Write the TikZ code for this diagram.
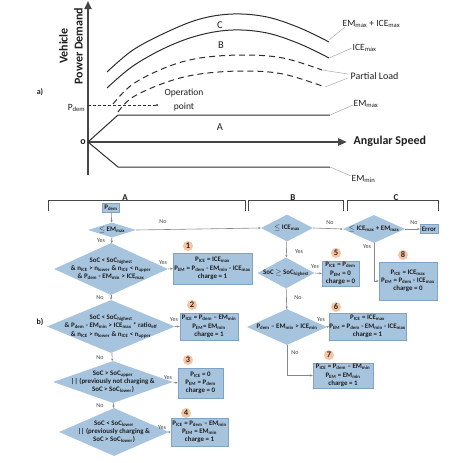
\documentclass[tikz,border=0pt]{standalone}
\usepackage{fontspec}
\setmainfont{Carlito}
\usetikzlibrary{shapes.geometric,arrows.meta,calc}
\newcommand{\sbs}[1]{\textsubscript{#1}}
\definecolor{boxfill}{RGB}{167,196,222}
\definecolor{boxline}{RGB}{128,162,196}
\definecolor{connc}{RGB}{135,135,135}
\definecolor{axisc}{RGB}{70,70,70}
\definecolor{curvec}{RGB}{45,45,45}
\definecolor{leaderc}{RGB}{170,170,170}
\definecolor{badgefill}{RGB}{246,196,160}
\definecolor{txt}{RGB}{30,30,30}
\begin{document}
\begin{tikzpicture}[x=1pt,y=-1pt,
  ft/.style={font=\fontsize{6.9}{8.2}\selectfont\bfseries, text=txt, align=center, inner sep=0pt},
  dia/.style 2 args={diamond, fill=boxfill, draw=none, minimum width=#1, minimum height=#2, inner sep=0pt},
  fbox/.style 2 args={rectangle, fill=boxfill, draw=boxline, line width=0.4pt, minimum width=#1, minimum height=#2, inner sep=0.5pt, ft},
  badge/.style={circle, fill=badgefill, inner sep=0pt, minimum size=10pt, font=\fontsize{8.5}{8.5}\selectfont\bfseries, text=black!85},
  conn/.style={draw=connc, line width=0.6pt, -{Stealth[length=2.6pt,width=2.2pt]}},
  lbl/.style={font=\fontsize{6}{6}\selectfont, text=black!75, inner sep=0.5pt},
  brk/.style={draw=axisc, line width=0.8pt},
  brklbl/.style={font=\fontsize{9}{9}\selectfont\bfseries, text=txt, inner sep=0.5pt, anchor=south},
  axisline/.style={draw=axisc, line width=2.3pt},
  curve/.style={draw=curvec, line width=1pt},
  dcurve/.style={draw=curvec, line width=1pt, dash pattern=on 6pt off 4pt},
  leader/.style={draw=leaderc, line width=0.5pt},
  albl/.style={font=\fontsize{9.5}{12}\selectfont, text=txt, inner sep=0.5pt}
]
\useasboundingbox (0,0) rectangle (474,463);

% ---------------- part a ----------------
\coordinate (O) at (88,142);
\coordinate (ytop) at (88,1);
\coordinate (ybot) at (88,175);
\coordinate (xend) at (347,142);
\draw[axisline, -{Triangle[length=8pt,width=7pt]}] (ybot) -- (ytop);
\draw[axisline, -{Triangle[length=9pt,width=7pt]}] (O) -- (xend);

% EM max / min
\draw[curve] (O) -- (118,115) -- (330,115);
\draw[curve] (O) -- (118,167) -- (330,167);
% C and ICE max curves
\draw[curve] plot[smooth, tension=0.6] coordinates {(107,72) (133,50) (167,32) (200,19) (233,14) (267,17) (300,28) (329,42)};
\draw[curve] plot[smooth, tension=0.6] coordinates {(107,88) (133,66) (167,47) (200,35) (233,30) (267,33) (300,44) (329,58)};
% partial load
\draw[dcurve] plot[smooth, tension=0.6] coordinates {(113,104) (133,84) (167,67) (200,58) (243,55) (283,58) (322,70)};
\draw[dcurve] plot[smooth, tension=0.6] coordinates {(118,112) (133,97) (167,82) (200,74) (243,71) (283,74) (325,87)};
% operation point
\coordinate (oppt) at (157,105);
\draw[draw=curvec, line width=0.6pt, dash pattern=on 3pt off 2pt] (88,105) -- (oppt);
\fill[curvec] (oppt) circle (1.1pt);

% leaders
\draw[leader] (329,40) -- (345,27);
\draw[leader] (329,58) -- (352,48);
\draw[leader] (322,70) -- (348,74);
\draw[leader] (325,87) -- (348,78);
\draw[leader] (330,115) -- (353,105);
\draw[leader] (330,167) -- (351,176);

% labels
\node[albl, anchor=west] (lEMICE) at (342,24) {EM\sbs{max} + ICE\sbs{max}};
\node[albl, anchor=west] (lICE) at (352,48) {ICE\sbs{max}};
\node[albl, anchor=west, font=\fontsize{10}{12}\selectfont] (lPL) at (350,76) {Partial Load};
\node[albl, anchor=west] (lEMmax) at (353,104) {EM\sbs{max}};
\node[albl, anchor=west] (lEMmin) at (351,179) {EM\sbs{min}};
\node[albl, align=center, font=\fontsize{9.5}{14}\selectfont] (lop) at (184,100) {Operation\\point};
\node[albl, anchor=east] (lpdem) at (86,108) {P\sbs{dem}};
\node[albl, font=\fontsize{10}{10}\selectfont\bfseries] (lo) at (83,142) {o};
\node[albl, anchor=west, font=\fontsize{12}{12}\selectfont\bfseries] (las) at (353,141) {Angular Speed};
\node[albl, rotate=90, align=center, font=\fontsize{12}{15}\selectfont\bfseries] (lvpd) at (71,46) {Vehicle\\Power Demand};
\node[albl, font=\fontsize{10.5}{10.5}\selectfont] (lA) at (220,127) {A};
\node[albl, font=\fontsize{10.5}{10.5}\selectfont] (lB) at (221,45) {B};
\node[albl, font=\fontsize{10.5}{10.5}\selectfont] (lC) at (220,25) {C};
\node[albl, font=\fontsize{8}{8}\selectfont\bfseries] (la) at (40,92) {a)};
\node[albl, font=\fontsize{8}{8}\selectfont\bfseries] (lb) at (40,322) {b)};

% ---------------- part b ----------------
% brackets
\draw[brk] (48,211) -- (48,200) -- (245,200) -- (245,211);
\draw[brk] (248,211) -- (248,200) -- (343,200) -- (343,211);
\draw[brk] (347,211) -- (347,200) -- (438,200) -- (438,211);
\node[brklbl] (bA) at (125,201) {A};
\node[brklbl] (bB) at (293,201) {B};
\node[brklbl] (bC) at (396,201) {C};

% column A
\node[fbox={17pt}{9pt}] (pdem) at (111,208) {P\sbs{dem}};
\node[dia={48pt}{15pt}] (dA) at (112,230) {};
\node[ft] (dAt) at (dA) {$\leq$ EM\sbs{max}};
\node[dia={114pt}{52pt}] (d1) at (111,269) {};
\node[ft] (d1t) at (d1) {SoC < SoC\sbs{highest}\\ \& n\sbs{ICE} > n\sbs{lower} \& n\sbs{ICE} < n\sbs{upper}\\ \& P\sbs{dem} - EM\sbs{min} > ICE\sbs{max}};
\node[dia={128pt}{53pt}] (d2) at (111,326.5) {};
\node[ft] (d2t) at (d2) {SoC < SoC\sbs{highest}\\ \& P\sbs{dem} - EM\sbs{min} > ICE\sbs{max} * ratio\sbs{eff}\\ \& n\sbs{ICE} > n\sbs{lower} \& n\sbs{ICE} < n\sbs{upper}};
\node[dia={120pt}{42pt}] (d3) at (113,382) {};
\node[ft] (d3t) at (d3) {SoC > SoC\sbs{upper}\\ || (previously not charging \&\\ SoC > SoC\sbs{lower})};
\node[dia={110pt}{48pt}] (d4) at (114,432) {};
\node[ft] (d4t) at (d4) {SoC < SoC\sbs{lower}\\ || (previously charging \&\\ SoC > SoC\sbs{lower})};

\node[fbox={79pt}{31pt}] (b1) at (212.5,268.5) {P\sbs{ICE} = ICE\sbs{max}\\ P\sbs{EM} = P\sbs{dem} - EM\sbs{min} - ICE\sbs{max}\\ charge = 1};
\node[fbox={58pt}{27pt}] (b2) at (209,326.5) {P\sbs{ICE} = P\sbs{dem} – EM\sbs{min}\\ P\sbs{EM}= EM\sbs{min}\\ charge = 1};
\node[fbox={45pt}{30pt}] (b3) at (200.5,383) {P\sbs{ICE} = 0\\ P\sbs{EM} = P\sbs{dem}\\ charge = 0};
\node[fbox={57pt}{28pt}] (b4) at (199.5,432) {P\sbs{ICE} = P\sbs{dem} – EM\sbs{min}\\ P\sbs{EM} = EM\sbs{min}\\ charge = 1};
\node[badge] (n1) at (188,246) {1};
\node[badge] (n2) at (192,305) {2};
\node[badge] (n3) at (188,360) {3};
\node[badge] (n4) at (186,413) {4};

% column B
\node[dia={52pt}{27pt}] (dB) at (287,228) {};
\node[ft] (dBt) at (dB) {$\leq$ ICE\sbs{max}};
\node[dia={57pt}{31pt}] (d5) at (286,273) {};
\node[ft] (d5t) at (d5) {SoC $\geq$ SoC\sbs{highest}};
\node[dia={80pt}{36pt}] (d6) at (287,327) {};
\node[ft] (d6t) at (d6) {P\sbs{dem} – EM\sbs{min} > ICE\sbs{min}};
\node[fbox={37pt}{25pt}] (b5) at (340.5,273.5) {P\sbs{ICE} = P\sbs{dem}\\ P\sbs{EM} = 0\\ charge = 0};
\node[fbox={77pt}{27pt}] (b6) at (367.5,326.5) {P\sbs{ICE} = ICE\sbs{max}\\ P\sbs{EM} = P\sbs{dem} - EM\sbs{min} - ICE\sbs{max}\\ charge = 1};
\node[fbox={60pt}{25pt}] (b7) at (343,375.5) {P\sbs{ICE} = P\sbs{dem} – EM\sbs{min}\\ P\sbs{EM} = EM\sbs{min}\\ charge = 1};
\node[badge] (n5) at (336,253) {5};
\node[badge] (n6) at (336,307) {6};
\node[badge] (n7) at (329,355) {7};

% column C
\node[dia={62pt}{28pt}] (dC) at (374,229) {};
\node[ft] (dCt) at (dC) {$\leq$ ICE\sbs{max} + EM\sbs{max}};
\node[fbox={18pt}{9pt}] (err) at (429,229) {Error};
\node[fbox={58pt}{38pt}] (b8) at (408,281) {P\sbs{ICE} = ICE\sbs{max}\\ P\sbs{EM} = P\sbs{dem} - ICE\sbs{max}\\ charge = 0};
\node[badge] (n8) at (403,255) {8};

% connectors
\draw[conn] (pdem) -- (dA);
\draw[conn] (dA) -- (d1);
\draw[conn] (d1) -- (d2);
\draw[conn] (d2) -- (d3);
\draw[conn] (d3) -- (d4);
\draw[conn] (d1.east) -- (b1.west);
\draw[conn] (d2.east) -- (b2.west);
\draw[conn] (d3.east) -- (b3.west);
\draw[conn] (d4.east) -- (b4.west);
\draw[conn] (dA.east) -- (dB.west);
\draw[conn] (dB.east) -- (dC.west);
\draw[conn] (dC.east) -- (err.west);
\draw[conn] (dB) -- (d5);
\draw[conn] (d5.east) -- (b5.west);
\draw[conn] (d5) -- (d6);
\draw[conn] (d6.east) -- (b6.west);
\draw[conn] (d6.south) |- (b7.west);
\draw[conn] (dC.south) |- (b8.west);

% connector labels
\node[lbl] (yA) at (101,241) {Yes};
\node[lbl] (no1) at (100,298) {No};
\node[lbl] (no2) at (100,358) {No};
\node[lbl] (no3) at (100,406) {No};
\node[lbl] (y1) at (163,263) {Yes};
\node[lbl] (y2) at (174,320) {Yes};
\node[lbl] (y3) at (168,378) {Yes};
\node[lbl] (y4) at (162,428) {Yes};
\node[lbl] (noA) at (163,222) {No};
\node[lbl] (noB) at (330,223) {No};
\node[lbl] (noC) at (414,223) {No};
\node[lbl] (yB) at (299,252) {Yes};
\node[lbl] (y5) at (315,267) {Yes};
\node[lbl] (no5) at (298,298) {No};
\node[lbl] (y6) at (321,320) {Yes};
\node[lbl] (no6) at (295,353) {No};
\node[lbl] (yC) at (367,247) {Yes};
\end{tikzpicture}
\end{document}
